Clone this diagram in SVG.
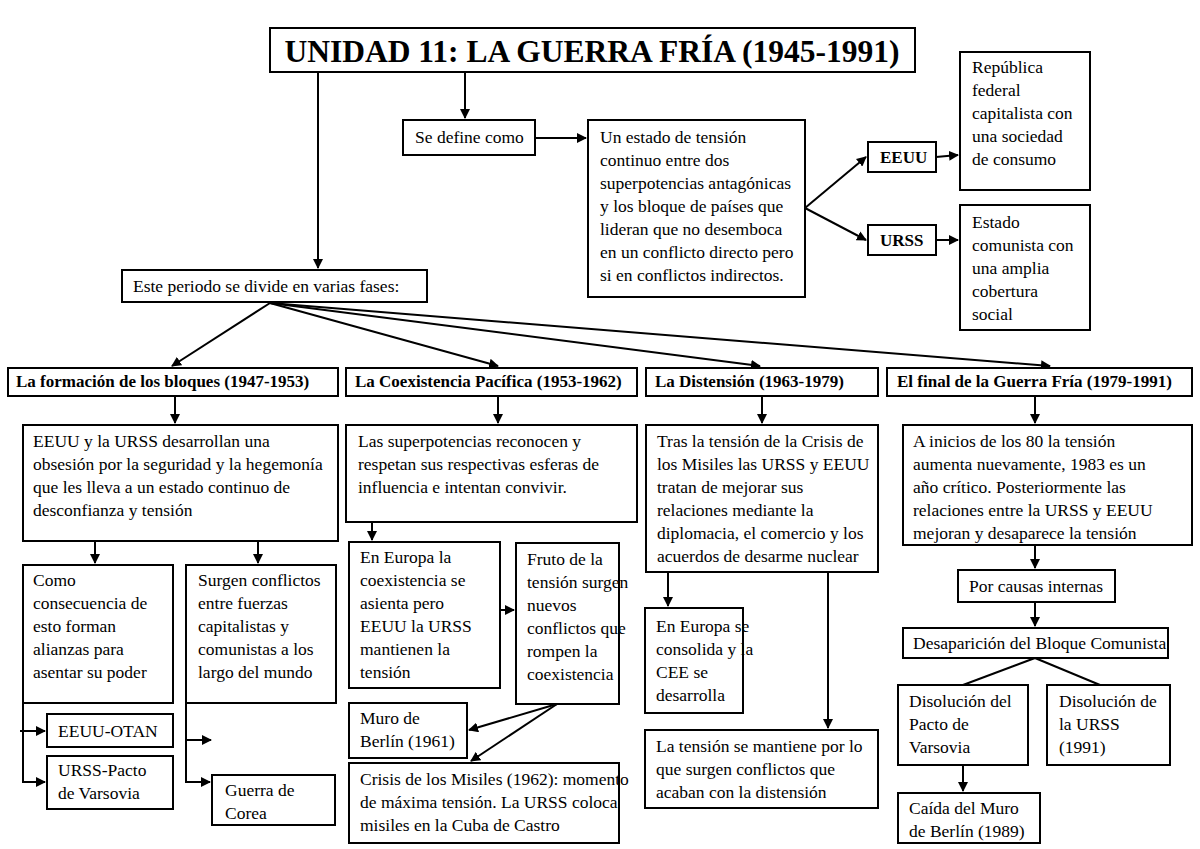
<svg xmlns="http://www.w3.org/2000/svg" width="1200" height="849" viewBox="0 0 1200 849">
<style>
rect{fill:#fff;stroke:#000;stroke-width:2}
text{font-family:"Liberation Serif",serif;font-size:17.5px;fill:#000}
.b{font-weight:bold;font-size:17px}
.c line,.c polyline{stroke:#000;stroke-width:2;fill:none}
</style>
<defs><marker id="a" viewBox="0 0 10 10" refX="9" refY="5" markerWidth="5" markerHeight="5" orient="auto"><path d="M0,0L10,5L0,10z" fill="#000"/></marker></defs>
<rect x="0" y="0" width="1200" height="849" style="stroke:none"/>
<g class="c">
<line x1="318" y1="72" x2="318" y2="268" marker-end="url(#a)"/>
<line x1="465" y1="72" x2="465" y2="118" marker-end="url(#a)"/>
<line x1="535" y1="138" x2="586" y2="138" marker-end="url(#a)"/>
<line x1="805" y1="208" x2="866" y2="157" marker-end="url(#a)"/>
<line x1="805" y1="208" x2="866" y2="240" marker-end="url(#a)"/>
<line x1="936" y1="157" x2="958" y2="155" marker-end="url(#a)"/>
<line x1="936" y1="240" x2="958" y2="240" marker-end="url(#a)"/>
<line x1="270" y1="303" x2="172" y2="366" marker-end="url(#a)"/>
<line x1="270" y1="303" x2="498" y2="366" marker-end="url(#a)"/>
<line x1="270" y1="303" x2="760" y2="366" marker-end="url(#a)"/>
<line x1="270" y1="303" x2="1050" y2="366" marker-end="url(#a)"/>
<line x1="175" y1="396" x2="175" y2="423" marker-end="url(#a)"/>
<line x1="498" y1="396" x2="498" y2="423" marker-end="url(#a)"/>
<line x1="762" y1="396" x2="762" y2="423" marker-end="url(#a)"/>
<line x1="1035" y1="396" x2="1035" y2="423" marker-end="url(#a)"/>
<line x1="95" y1="541" x2="95" y2="563" marker-end="url(#a)"/>
<line x1="258" y1="541" x2="258" y2="563" marker-end="url(#a)"/>
<polyline points="23,703 23,782 45,782" marker-end="url(#a)"/>
<line x1="20" y1="731" x2="45" y2="731" marker-end="url(#a)"/>
<polyline points="186,703 186,782 210,782" marker-end="url(#a)"/>
<line x1="186" y1="740" x2="211" y2="740" marker-end="url(#a)"/>
<line x1="372" y1="522" x2="372" y2="540" marker-end="url(#a)"/>
<line x1="500" y1="610" x2="514" y2="610" marker-end="url(#a)"/>
<line x1="557" y1="704" x2="469" y2="730" marker-end="url(#a)"/>
<line x1="557" y1="704" x2="471" y2="761" marker-end="url(#a)"/>
<line x1="668" y1="572" x2="668" y2="606" marker-end="url(#a)"/>
<line x1="828" y1="572" x2="828" y2="728" marker-end="url(#a)"/>
<line x1="1035" y1="545" x2="1035" y2="568" marker-end="url(#a)"/>
<line x1="1035" y1="602" x2="1035" y2="626" marker-end="url(#a)"/>
<line x1="1035" y1="658" x2="963" y2="685"/>
<line x1="1035" y1="658" x2="1100" y2="685"/>
<line x1="963" y1="765" x2="963" y2="791" marker-end="url(#a)"/>
</g>
<g id="title"><rect x="270" y="28" width="645" height="44"/><text x="592" y="62" text-anchor="middle" class="b" style="font-size:31.5px">UNIDAD 11: LA GUERRA FRÍA (1945-1991)</text></g>
<g id="define"><rect x="403" y="120" width="132" height="35"/><text x="415" y="143">Se define como</text></g>
<g id="estado"><rect x="588" y="120" width="217" height="177"/><text x="600" y="143">Un estado de tensión</text><text x="600" y="166">continuo entre dos</text><text x="600" y="189">superpotencias antagónicas</text><text x="600" y="212">y los bloque de países que</text><text x="600" y="235">lideran que no desemboca</text><text x="600" y="258">en un conflicto directo pero</text><text x="600" y="281">si en conflictos indirectos.</text></g>
<g id="eeuu"><rect x="868" y="142" width="68" height="30"/><text x="880" y="163" class="b">EEUU</text></g>
<g id="urss"><rect x="868" y="225" width="68" height="30"/><text x="880" y="246" class="b">URSS</text></g>
<g id="rep"><rect x="960" y="52" width="130" height="138"/><text x="972" y="73">República</text><text x="972" y="96">federal</text><text x="972" y="119">capitalista con</text><text x="972" y="142">una sociedad</text><text x="972" y="165">de consumo</text></g>
<g id="estcom"><rect x="960" y="205" width="130" height="125"/><text x="972" y="228">Estado</text><text x="972" y="251">comunista con</text><text x="972" y="274">una amplia</text><text x="972" y="297">cobertura</text><text x="972" y="320">social</text></g>
<g id="fases"><rect x="122" y="270" width="305" height="32"/><text x="133" y="292">Este periodo se divide en varias fases:</text></g>
<g id="h1"><rect x="8" y="368" width="330" height="28"/><text x="16" y="387" class="b">La formación de los bloques (1947-1953)</text></g>
<g id="h2"><rect x="346" y="368" width="291" height="28"/><text x="355" y="387" class="b">La Coexistencia Pacífica (1953-1962)</text></g>
<g id="h3"><rect x="646" y="368" width="232" height="28"/><text x="655" y="387" class="b">La Distensión (1963-1979)</text></g>
<g id="h4"><rect x="887" y="368" width="305" height="28"/><text x="897" y="387" class="b">El final de la Guerra Fría (1979-1991)</text></g>
<g id="b1"><rect x="23" y="425" width="315" height="116"/><text x="33" y="447">EEUU y la URSS desarrollan una</text><text x="33" y="470">obsesión por la seguridad y la hegemonía</text><text x="33" y="493">que les lleva a un estado continuo de</text><text x="33" y="516">desconfianza y tensión</text></g>
<g id="b2"><rect x="346" y="425" width="291" height="97"/><text x="358" y="447">Las superpotencias reconocen y</text><text x="358" y="470">respetan sus respectivas esferas de</text><text x="358" y="493">influencia e intentan convivir.</text></g>
<g id="b3"><rect x="646" y="425" width="232" height="147"/><text x="657" y="447">Tras la tensión de la Crisis de</text><text x="657" y="470">los Misiles las URSS y EEUU</text><text x="657" y="493">tratan de mejorar sus</text><text x="657" y="516">relaciones mediante la</text><text x="657" y="539">diplomacia, el comercio y los</text><text x="657" y="562">acuerdos de desarme nuclear</text></g>
<g id="b4"><rect x="903" y="425" width="289" height="120"/><text x="913" y="447">A inicios de los 80 la tensión</text><text x="913" y="470">aumenta nuevamente, 1983 es un</text><text x="913" y="493">año crítico. Posteriormente las</text><text x="913" y="516">relaciones entre la URSS y EEUU</text><text x="913" y="539">mejoran y desaparece la tensión</text></g>
<g id="como"><rect x="23" y="565" width="150" height="138"/><text x="33" y="586">Como</text><text x="33" y="609">consecuencia de</text><text x="33" y="632">esto forman</text><text x="33" y="655">alianzas para</text><text x="33" y="678">asentar su poder</text></g>
<g id="surgen"><rect x="186" y="565" width="150" height="138"/><text x="198" y="586">Surgen conflictos</text><text x="198" y="609">entre fuerzas</text><text x="198" y="632">capitalistas y</text><text x="198" y="655">comunistas a los</text><text x="198" y="678">largo del mundo</text></g>
<g id="otan"><rect x="47" y="714" width="126" height="33"/><text x="58" y="737">EEUU-OTAN</text></g>
<g id="pacto"><rect x="47" y="756" width="126" height="53"/><text x="58" y="776">URSS-Pacto</text><text x="58" y="799">de Varsovia</text></g>
<g id="corea"><rect x="212" y="775" width="123" height="50"/><text x="225" y="796">Guerra de</text><text x="225" y="819">Corea</text></g>
<g id="europa1"><rect x="349" y="542" width="151" height="146"/><text x="360" y="563">En Europa la</text><text x="360" y="586">coexistencia se</text><text x="360" y="609">asienta pero</text><text x="360" y="632">EEUU  la URSS</text><text x="360" y="655">mantienen la</text><text x="360" y="678">tensión</text></g>
<g id="fruto"><rect x="516" y="543" width="103" height="161"/><text x="527" y="565">Fruto de la</text><text x="527" y="588">tensión surgen</text><text x="527" y="611">nuevos</text><text x="527" y="634">conflictos que</text><text x="527" y="657">rompen la</text><text x="527" y="680">coexistencia</text></g>
<g id="muro"><rect x="349" y="703" width="118" height="55"/><text x="360" y="724">Muro de</text><text x="360" y="747">Berlín (1961)</text></g>
<g id="crisis"><rect x="349" y="763" width="270" height="80"/><text x="360" y="785">Crisis de los Misiles (1962): momento</text><text x="360" y="808">de máxima tensión. La URSS coloca</text><text x="360" y="831">misiles en la Cuba de Castro</text></g>
<g id="europa2"><rect x="645" y="608" width="98" height="105"/><text x="656" y="632">En Europa se</text><text x="656" y="655">consolida y la</text><text x="656" y="678">CEE se</text><text x="656" y="701">desarrolla</text></g>
<g id="mantiene"><rect x="645" y="730" width="233" height="78"/><text x="656" y="752">La tensión se mantiene por lo</text><text x="656" y="775">que surgen conflictos que</text><text x="656" y="798">acaban con la distensión</text></g>
<g id="causas"><rect x="958" y="570" width="157" height="32"/><text x="969" y="592">Por causas internas</text></g>
<g id="desap"><rect x="903" y="628" width="265" height="30"/><text x="913" y="649">Desaparición del Bloque Comunista</text></g>
<g id="disp"><rect x="898" y="685" width="130" height="80"/><text x="909" y="707">Disolución del</text><text x="909" y="730">Pacto de</text><text x="909" y="753">Varsovia</text></g>
<g id="disu"><rect x="1047" y="685" width="123" height="80"/><text x="1059" y="707">Disolución de</text><text x="1059" y="730">la URSS</text><text x="1059" y="753">(1991)</text></g>
<g id="caida"><rect x="898" y="793" width="142" height="50"/><text x="909" y="814">Caída del Muro</text><text x="909" y="837">de Berlín (1989)</text></g>
</svg>
